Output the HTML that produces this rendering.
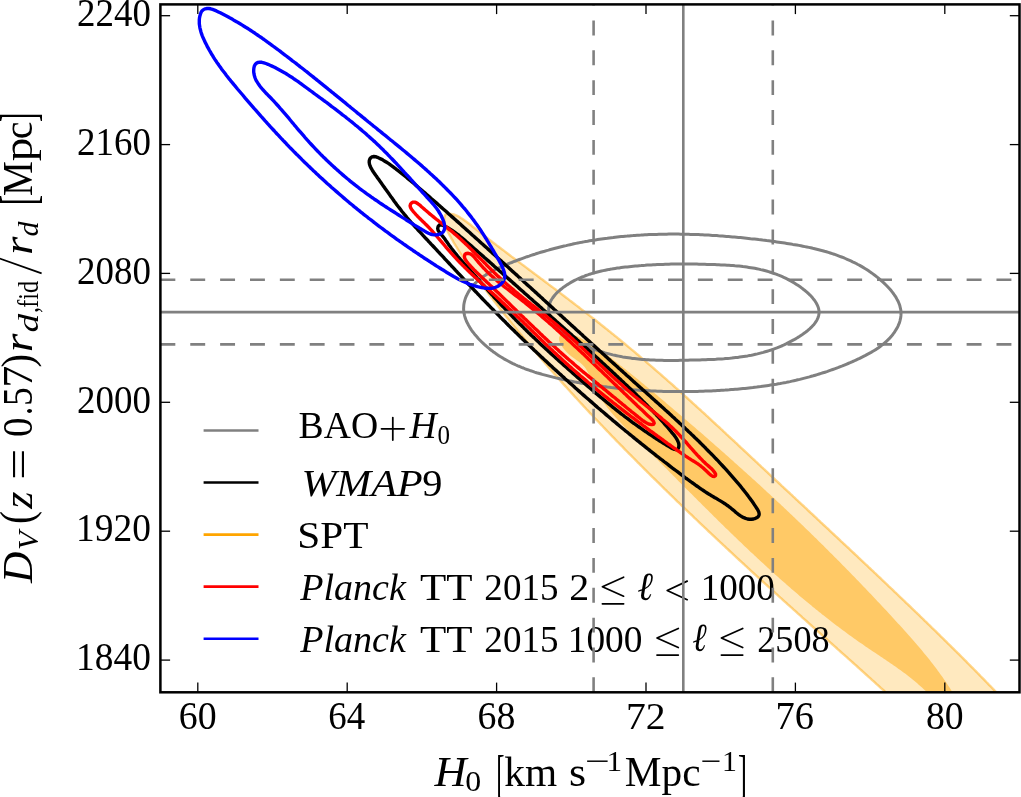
<!DOCTYPE html><html><head><meta charset="utf-8"><style>html,body{margin:0;padding:0;background:#fff;overflow:hidden}svg{display:block;will-change:transform}</style></head><body><svg width="1021" height="797" viewBox="0 0 1021 797" style="font-family:'Liberation Serif',serif">
<defs><clipPath id="ax"><rect x="160.4" y="4.4" width="859.1" height="687.9"/></clipPath></defs>
<rect width="100%" height="100%" fill="#fff"/>
<g clip-path="url(#ax)">
<path d="M444.7 216.3L445.3 214.8L446.5 213.9L448.3 213.7L450.1 213.8L451.9 214.1L453.8 214.5L455.5 215.2L457.3 215.9L459.1 216.8L460.8 217.9L462.6 219.0L464.3 220.2L466.0 221.4L467.7 222.7L469.4 224.0L471.1 225.3L472.7 226.7L474.4 228.0L476.1 229.3L477.7 230.6L479.4 231.9L481.0 233.2L482.7 234.5L484.3 235.7L485.9 237.0L487.5 238.2L489.1 239.5L490.8 240.7L492.4 242.0L494.0 243.2L495.6 244.4L497.1 245.6L498.7 246.8L500.3 248.0L501.9 249.2L503.5 250.4L505.1 251.6L506.6 252.8L508.2 254.0L509.8 255.2L511.3 256.4L512.9 257.6L514.5 258.7L516.0 259.9L517.6 261.1L519.2 262.3L520.7 263.4L522.3 264.6L523.9 265.8L525.4 266.9L527.0 268.1L528.5 269.3L530.1 270.4L531.7 271.6L533.2 272.8L534.8 274.0L536.4 275.1L537.9 276.3L539.5 277.5L541.1 278.7L542.7 279.8L544.2 281.0L545.8 282.2L547.4 283.4L548.9 284.6L550.5 285.8L552.1 286.9L553.7 288.1L555.3 289.3L556.8 290.5L558.4 291.7L560.0 292.9L561.6 294.1L563.1 295.3L564.7 296.5L566.3 297.7L567.9 298.9L569.4 300.1L571.0 301.3L572.6 302.5L574.2 303.7L575.7 304.9L577.3 306.1L578.9 307.3L580.5 308.6L582.0 309.8L583.6 311.0L585.2 312.2L586.7 313.4L588.3 314.6L589.9 315.9L591.5 317.1L593.0 318.3L594.6 319.5L596.2 320.8L597.7 322.0L599.3 323.2L600.8 324.5L602.4 325.7L604.0 327.0L605.5 328.2L607.1 329.4L608.6 330.7L610.2 331.9L611.7 333.2L613.3 334.4L614.8 335.7L616.4 336.9L617.9 338.2L619.5 339.5L621.0 340.7L622.5 342.0L624.1 343.3L625.6 344.5L627.2 345.8L628.7 347.1L630.2 348.3L631.7 349.6L633.3 350.9L634.8 352.2L636.3 353.5L637.8 354.7L639.3 356.0L640.9 357.3L642.4 358.6L643.9 359.9L645.4 361.2L646.9 362.5L648.4 363.8L649.9 365.1L651.4 366.4L652.9 367.7L654.4 369.0L655.9 370.3L657.4 371.6L658.9 372.9L660.4 374.2L661.9 375.5L663.4 376.8L664.9 378.1L666.4 379.4L667.9 380.8L669.4 382.1L670.9 383.4L672.4 384.7L673.8 386.0L675.3 387.4L676.8 388.7L678.3 390.0L679.8 391.3L681.3 392.7L682.7 394.0L684.2 395.3L685.7 396.7L687.2 398.0L688.6 399.3L690.1 400.7L691.6 402.0L693.0 403.3L694.5 404.7L696.0 406.0L697.4 407.3L698.9 408.7L700.4 410.0L701.8 411.4L703.3 412.7L704.8 414.0L706.2 415.4L707.7 416.7L709.2 418.1L710.6 419.4L712.1 420.8L713.5 422.1L715.0 423.5L716.4 424.8L717.9 426.2L719.4 427.5L720.8 428.9L722.3 430.2L723.7 431.6L725.2 432.9L726.6 434.3L728.1 435.6L729.5 437.0L731.0 438.3L732.4 439.7L733.9 441.0L735.3 442.4L736.8 443.7L738.2 445.1L739.7 446.5L741.1 447.8L742.6 449.2L744.0 450.5L745.5 451.9L746.9 453.2L748.4 454.6L749.8 455.9L751.3 457.3L752.7 458.7L754.2 460.0L755.6 461.4L757.1 462.7L758.5 464.1L760.0 465.4L761.4 466.8L762.9 468.1L764.3 469.5L765.8 470.9L767.2 472.2L768.7 473.6L770.1 474.9L771.6 476.3L773.0 477.6L774.5 479.0L775.9 480.3L777.4 481.7L778.8 483.0L780.3 484.4L781.7 485.8L783.2 487.1L784.6 488.5L786.1 489.8L787.5 491.2L789.0 492.5L790.4 493.9L791.9 495.2L793.3 496.6L794.8 497.9L796.2 499.3L797.7 500.6L799.1 502.0L800.6 503.3L802.0 504.7L803.5 506.0L804.9 507.4L806.4 508.7L807.8 510.1L809.3 511.5L810.7 512.8L812.2 514.2L813.6 515.5L815.1 516.9L816.5 518.2L817.9 519.6L819.4 520.9L820.8 522.3L822.3 523.6L823.7 525.0L825.2 526.3L826.6 527.7L828.1 529.0L829.5 530.4L831.0 531.8L832.4 533.1L833.9 534.5L835.3 535.8L836.8 537.2L838.2 538.5L839.7 539.9L841.1 541.3L842.6 542.6L844.0 544.0L845.5 545.3L846.9 546.7L848.4 548.0L849.8 549.4L851.3 550.8L852.7 552.1L854.2 553.5L855.6 554.8L857.1 556.2L858.5 557.6L859.9 558.9L861.4 560.3L862.8 561.6L864.3 563.0L865.7 564.4L867.2 565.7L868.6 567.1L870.1 568.5L871.5 569.8L873.0 571.2L874.4 572.6L875.9 573.9L877.3 575.3L878.7 576.7L880.2 578.0L881.6 579.4L883.1 580.8L884.5 582.1L886.0 583.5L887.4 584.9L888.8 586.3L890.3 587.6L891.7 589.0L893.2 590.4L894.6 591.8L896.1 593.1L897.5 594.5L898.9 595.9L900.4 597.3L901.8 598.6L903.3 600.0L904.7 601.4L906.1 602.8L907.6 604.2L909.0 605.5L910.5 606.9L911.9 608.3L913.3 609.7L914.8 611.1L916.2 612.5L917.7 613.9L919.1 615.2L920.5 616.6L922.0 618.0L923.4 619.4L924.8 620.8L926.3 622.2L927.7 623.6L929.1 625.0L930.6 626.4L932.0 627.8L933.4 629.1L934.8 630.5L936.3 631.9L937.7 633.3L939.1 634.7L940.5 636.1L942.0 637.5L943.4 638.9L944.8 640.3L946.2 641.7L947.6 643.1L949.1 644.5L950.5 645.9L951.9 647.3L953.3 648.7L954.7 650.1L956.1 651.5L957.5 652.8L958.9 654.2L960.3 655.6L961.7 657.0L963.1 658.4L964.5 659.8L965.9 661.2L967.2 662.6L968.6 664.0L970.0 665.4L971.4 666.8L972.8 668.2L974.1 669.5L975.5 670.9L976.9 672.3L978.2 673.7L979.6 675.1L980.9 676.5L982.3 677.9L983.6 679.2L985.0 680.6L986.3 682.0L987.7 683.4L989.0 684.8L990.4 686.1L991.7 687.5L993.0 688.9L994.4 690.3L995.7 691.7L997.1 693.1L998.5 694.5L999.8 695.9L1001.2 697.4L1002.6 698.8L1004.0 700.3L1005.4 701.7L1006.9 703.2L1008.3 704.7L1009.8 706.2L1011.3 707.7L1012.8 709.2L1014.3 710.8L1015.8 712.3L1017.4 713.9L1018.9 715.5L1020.4 717.1L1021.9 718.7L1023.4 720.3L1024.9 721.9L1026.2 723.5L1027.6 725.1L1028.8 726.7L1030.0 728.3L1031.1 729.9L1032.1 731.5L1033.0 733.1L1033.7 734.7L1034.3 736.2L1034.8 737.7L1035.2 739.2L1035.4 740.7L1035.4 742.1L1035.2 743.6L1034.9 744.9L1034.4 746.3L1033.7 747.6L1032.8 748.9L1031.8 750.2L1030.7 751.4L1029.4 752.6L1027.9 753.7L1026.3 754.8L1024.6 755.9L1022.8 756.9L1020.9 757.9L1018.9 758.8L1016.7 759.7L1014.5 760.6L1012.2 761.4L1009.8 762.1L1007.4 762.8L1004.9 763.5L1002.3 764.0L999.7 764.6L997.0 765.1L994.3 765.5L991.6 765.8L988.8 766.1L986.1 766.4L983.3 766.6L980.5 766.7L977.8 766.8L975.0 766.7L972.3 766.7L969.5 766.5L966.9 766.3L964.2 766.0L961.6 765.7L959.1 765.3L956.6 764.8L954.2 764.2L951.8 763.6L949.6 762.8L947.4 762.0L945.3 761.1L943.3 760.2L941.4 759.1L939.7 758.0L938.0 756.8L936.5 755.5L935.1 754.1L933.9 752.6L932.8 751.1L931.8 749.4L931.0 747.7L930.4 745.8L930.0 743.9L929.7 741.9L929.5 739.9L929.3 737.8L929.1 735.8L928.8 733.8L928.4 731.9L927.8 730.0L927.0 728.4L926.0 726.8L924.8 725.3L923.4 723.9L922.0 722.6L920.4 721.4L918.8 720.1L917.2 718.9L915.6 717.7L914.0 716.5L912.4 715.2L910.8 714.0L909.2 712.7L907.6 711.4L906.1 710.2L904.5 708.9L903.0 707.6L901.5 706.3L900.0 705.0L898.5 703.7L897.0 702.4L895.5 701.1L894.0 699.7L892.5 698.4L891.0 697.1L889.5 695.8L888.1 694.4L886.6 693.1L885.1 691.8L883.7 690.4L882.2 689.1L880.7 687.8L879.2 686.4L877.8 685.1L876.3 683.8L874.8 682.4L873.4 681.1L871.9 679.8L870.4 678.4L868.9 677.1L867.5 675.8L866.0 674.5L864.5 673.1L863.1 671.8L861.6 670.5L860.1 669.2L858.6 667.8L857.2 666.5L855.7 665.2L854.2 663.9L852.7 662.5L851.2 661.2L849.8 659.9L848.3 658.6L846.8 657.2L845.3 655.9L843.9 654.6L842.4 653.3L840.9 652.0L839.4 650.6L837.9 649.3L836.5 648.0L835.0 646.7L833.5 645.3L832.0 644.0L830.5 642.7L829.1 641.4L827.6 640.1L826.1 638.7L824.6 637.4L823.1 636.1L821.7 634.8L820.2 633.4L818.7 632.1L817.2 630.8L815.7 629.5L814.3 628.2L812.8 626.8L811.3 625.5L809.8 624.2L808.4 622.9L806.9 621.5L805.4 620.2L803.9 618.9L802.4 617.6L801.0 616.2L799.5 614.9L798.0 613.6L796.5 612.2L795.1 610.9L793.6 609.6L792.1 608.2L790.6 606.9L789.2 605.6L787.7 604.3L786.2 602.9L784.7 601.6L783.3 600.3L781.8 598.9L780.3 597.6L778.9 596.3L777.4 594.9L775.9 593.6L774.4 592.2L773.0 590.9L771.5 589.6L770.0 588.2L768.6 586.9L767.1 585.5L765.6 584.2L764.2 582.9L762.7 581.5L761.2 580.2L759.8 578.8L758.3 577.5L756.8 576.2L755.4 574.8L753.9 573.5L752.4 572.1L751.0 570.8L749.5 569.4L748.1 568.1L746.6 566.7L745.1 565.4L743.7 564.0L742.2 562.7L740.8 561.3L739.3 560.0L737.8 558.6L736.4 557.3L734.9 555.9L733.5 554.6L732.0 553.2L730.6 551.9L729.1 550.5L727.7 549.2L726.2 547.8L724.8 546.4L723.3 545.1L721.8 543.7L720.4 542.4L719.0 541.0L717.5 539.6L716.1 538.3L714.6 536.9L713.2 535.6L711.7 534.2L710.3 532.8L708.8 531.5L707.4 530.1L705.9 528.7L704.5 527.4L703.1 526.0L701.6 524.6L700.2 523.3L698.7 521.9L697.3 520.5L695.9 519.1L694.4 517.8L693.0 516.4L691.6 515.0L690.1 513.7L688.7 512.3L687.2 510.9L685.8 509.5L684.4 508.1L683.0 506.8L681.5 505.4L680.1 504.0L678.7 502.6L677.2 501.3L675.8 499.9L674.4 498.5L673.0 497.1L671.5 495.7L670.1 494.3L668.7 492.9L667.3 491.6L665.9 490.2L664.4 488.8L663.0 487.4L661.6 486.0L660.2 484.6L658.8 483.2L657.4 481.8L656.0 480.4L654.5 479.0L653.1 477.7L651.7 476.3L650.3 474.9L648.9 473.5L647.5 472.1L646.1 470.7L644.7 469.3L643.3 467.9L641.9 466.5L640.5 465.1L639.1 463.7L637.7 462.3L636.3 460.8L634.9 459.4L633.5 458.0L632.1 456.6L630.7 455.2L629.3 453.8L627.9 452.4L626.5 451.0L625.1 449.6L623.7 448.1L622.4 446.7L621.0 445.3L619.6 443.9L618.2 442.5L616.8 441.1L615.4 439.6L614.1 438.2L612.7 436.8L611.3 435.4L609.9 433.9L608.6 432.5L607.2 431.1L605.8 429.6L604.4 428.2L603.1 426.8L601.7 425.3L600.3 423.9L599.0 422.5L597.6 421.0L596.2 419.6L594.9 418.2L593.5 416.7L592.2 415.3L590.8 413.8L589.4 412.4L588.1 410.9L586.7 409.5L585.4 408.0L584.0 406.6L582.7 405.1L581.3 403.7L580.0 402.2L578.6 400.7L577.3 399.3L576.0 397.8L574.6 396.4L573.3 394.9L571.9 393.4L570.6 392.0L569.3 390.5L567.9 389.0L566.6 387.5L565.3 386.1L563.9 384.6L562.6 383.1L561.3 381.6L560.0 380.1L558.6 378.7L557.3 377.2L556.0 375.7L554.7 374.2L553.4 372.7L552.0 371.2L550.7 369.7L549.4 368.2L548.1 366.7L546.8 365.2L545.5 363.7L544.2 362.2L542.9 360.7L541.6 359.2L540.3 357.7L539.0 356.2L537.7 354.7L536.4 353.2L535.1 351.6L533.8 350.1L532.5 348.6L531.2 347.1L529.9 345.5L528.7 344.0L527.4 342.5L526.1 341.0L524.8 339.4L523.5 337.9L522.3 336.3L521.0 334.8L519.7 333.3L518.4 331.7L517.2 330.2L515.9 328.6L514.6 327.1L513.4 325.5L512.1 324.0L510.9 322.4L509.6 320.9L508.4 319.3L507.1 317.7L505.9 316.2L504.6 314.6L503.4 313.0L502.2 311.5L500.9 309.9L499.7 308.4L498.5 306.8L497.3 305.2L496.1 303.6L494.9 302.1L493.7 300.5L492.5 298.9L491.3 297.3L490.1 295.8L488.9 294.2L487.7 292.6L486.5 291.0L485.4 289.5L484.2 287.9L483.0 286.3L481.9 284.7L480.7 283.1L479.6 281.6L478.5 280.0L477.3 278.4L476.2 276.8L475.1 275.2L474.0 273.7L472.9 272.1L471.8 270.5L470.7 268.9L469.6 267.3L468.6 265.7L467.5 264.2L466.4 262.6L465.4 261.0L464.3 259.3L463.2 257.7L462.2 256.1L461.1 254.4L460.1 252.8L459.0 251.1L457.9 249.4L456.9 247.6L455.8 245.9L454.7 244.1L453.6 242.3L452.6 240.4L451.5 238.6L450.4 236.6L449.3 234.7L448.3 232.8L447.3 230.8L446.5 228.9L445.7 227.0L445.1 225.1L444.6 223.2L444.3 221.4L444.2 219.6L444.3 217.9Z" fill="#ffe9bf" stroke="#ffa500" stroke-opacity="0.45" stroke-width="2.4"/>
<path d="M559.6 336.2L560.6 334.8L562.0 333.8L563.7 333.3L565.6 333.0L567.6 333.2L569.5 333.5L571.5 334.2L573.5 334.9L575.5 335.8L577.4 336.6L579.3 337.5L581.1 338.5L583.0 339.4L584.8 340.4L586.5 341.4L588.3 342.4L590.0 343.4L591.7 344.5L593.4 345.5L595.1 346.6L596.7 347.7L598.4 348.8L600.0 350.0L601.6 351.1L603.2 352.2L604.8 353.4L606.4 354.6L608.0 355.8L609.5 356.9L611.1 358.1L612.7 359.3L614.2 360.5L615.8 361.8L617.3 363.0L618.9 364.2L620.4 365.4L622.0 366.6L623.5 367.9L625.1 369.1L626.6 370.3L628.2 371.6L629.7 372.8L631.3 374.1L632.8 375.3L634.4 376.6L635.9 377.8L637.5 379.1L639.0 380.3L640.5 381.6L642.1 382.9L643.6 384.1L645.2 385.4L646.7 386.7L648.2 387.9L649.8 389.2L651.3 390.5L652.8 391.8L654.4 393.1L655.9 394.3L657.4 395.6L659.0 396.9L660.5 398.2L662.0 399.5L663.6 400.8L665.1 402.1L666.6 403.4L668.2 404.7L669.7 406.0L671.2 407.3L672.7 408.6L674.3 409.9L675.8 411.2L677.3 412.5L678.8 413.8L680.4 415.1L681.9 416.4L683.4 417.7L684.9 419.0L686.4 420.3L687.9 421.6L689.5 422.9L691.0 424.2L692.5 425.5L694.0 426.8L695.5 428.1L697.0 429.4L698.5 430.7L700.1 432.0L701.6 433.3L703.1 434.6L704.6 436.0L706.1 437.3L707.6 438.6L709.1 439.9L710.6 441.2L712.1 442.5L713.6 443.8L715.1 445.2L716.6 446.5L718.1 447.8L719.6 449.1L721.1 450.4L722.6 451.8L724.1 453.1L725.6 454.4L727.1 455.7L728.6 457.0L730.1 458.4L731.6 459.7L733.1 461.0L734.5 462.4L736.0 463.7L737.5 465.0L739.0 466.4L740.5 467.7L742.0 469.0L743.5 470.4L744.9 471.7L746.4 473.0L747.9 474.4L749.4 475.7L750.9 477.0L752.3 478.4L753.8 479.7L755.3 481.1L756.8 482.4L758.2 483.8L759.7 485.1L761.2 486.5L762.6 487.8L764.1 489.2L765.6 490.5L767.0 491.9L768.5 493.2L770.0 494.6L771.4 495.9L772.9 497.3L774.3 498.6L775.8 500.0L777.3 501.4L778.7 502.7L780.2 504.1L781.6 505.5L783.1 506.8L784.5 508.2L786.0 509.6L787.4 510.9L788.9 512.3L790.3 513.7L791.8 515.0L793.2 516.4L794.7 517.8L796.1 519.2L797.5 520.6L799.0 521.9L800.4 523.3L801.9 524.7L803.3 526.1L804.7 527.5L806.2 528.9L807.6 530.3L809.0 531.6L810.5 533.0L811.9 534.4L813.3 535.8L814.7 537.2L816.2 538.6L817.6 540.0L819.0 541.4L820.4 542.8L821.9 544.2L823.3 545.6L824.7 547.0L826.1 548.4L827.5 549.8L828.9 551.2L830.3 552.7L831.8 554.1L833.2 555.5L834.6 556.9L836.0 558.3L837.4 559.7L838.8 561.1L840.2 562.6L841.6 564.0L843.0 565.4L844.4 566.8L845.8 568.3L847.2 569.7L848.6 571.1L850.0 572.5L851.4 574.0L852.8 575.4L854.2 576.8L855.6 578.3L856.9 579.7L858.3 581.1L859.7 582.6L861.1 584.0L862.5 585.4L863.9 586.9L865.3 588.3L866.6 589.8L868.0 591.2L869.4 592.7L870.8 594.1L872.1 595.6L873.5 597.0L874.9 598.5L876.3 599.9L877.6 601.4L879.0 602.8L880.4 604.3L881.7 605.8L883.1 607.2L884.5 608.7L885.8 610.1L887.2 611.6L888.5 613.1L889.9 614.5L891.3 616.0L892.6 617.5L894.0 618.9L895.3 620.4L896.7 621.9L898.0 623.4L899.4 624.8L900.7 626.3L902.1 627.8L903.4 629.3L904.7 630.8L906.1 632.3L907.4 633.7L908.7 635.2L910.1 636.7L911.4 638.2L912.7 639.7L914.0 641.2L915.3 642.7L916.6 644.3L917.9 645.8L919.2 647.3L920.5 648.8L921.8 650.3L923.1 651.9L924.3 653.4L925.6 655.0L926.9 656.5L928.1 658.1L929.4 659.6L930.6 661.2L931.8 662.7L933.0 664.3L934.3 665.9L935.5 667.5L936.7 669.1L937.8 670.7L939.0 672.3L940.2 673.9L941.3 675.5L942.5 677.1L943.6 678.8L944.8 680.4L945.9 682.1L947.0 683.7L948.1 685.4L949.2 687.0L950.3 688.7L951.3 690.4L952.4 692.1L953.4 693.8L954.4 695.5L955.4 697.2L956.4 699.0L957.4 700.7L958.4 702.5L959.4 704.2L960.3 706.0L961.3 707.8L962.2 709.5L963.1 711.3L964.0 713.1L964.9 715.0L965.7 716.8L966.6 718.6L967.4 720.5L968.2 722.3L968.9 724.2L969.5 726.1L969.9 727.9L970.1 729.8L969.9 731.6L969.4 733.4L968.5 735.1L967.2 736.8L965.5 738.4L963.6 739.8L961.5 740.8L959.4 741.6L957.3 741.9L955.2 741.8L953.3 741.2L951.4 740.4L949.7 739.2L948.1 737.8L946.7 736.3L945.6 734.6L944.6 732.8L943.7 730.9L943.1 729.0L942.5 727.1L942.1 725.1L941.7 723.0L941.4 721.0L941.1 718.9L940.8 716.9L940.5 714.8L940.2 712.8L939.7 710.9L939.2 708.9L938.6 707.1L937.8 705.3L936.8 703.6L935.7 702.0L934.6 700.4L933.3 698.8L931.9 697.4L930.6 695.9L929.2 694.5L927.8 693.0L926.4 691.6L924.9 690.2L923.5 688.9L922.0 687.5L920.5 686.2L919.0 684.9L917.5 683.6L916.0 682.3L914.5 681.0L912.9 679.7L911.4 678.5L909.8 677.3L908.2 676.0L906.7 674.8L905.1 673.6L903.5 672.4L901.9 671.3L900.3 670.1L898.6 668.9L897.0 667.8L895.4 666.6L893.7 665.5L892.1 664.3L890.4 663.2L888.8 662.1L887.1 660.9L885.5 659.8L883.8 658.7L882.2 657.6L880.5 656.5L878.8 655.3L877.2 654.2L875.5 653.1L873.8 652.0L872.2 650.9L870.5 649.8L868.9 648.7L867.2 647.5L865.5 646.4L863.9 645.3L862.3 644.1L860.6 643.0L859.0 641.9L857.3 640.7L855.7 639.5L854.1 638.4L852.5 637.2L850.8 636.1L849.2 634.9L847.6 633.7L846.0 632.5L844.4 631.3L842.8 630.2L841.2 629.0L839.6 627.8L838.0 626.6L836.4 625.4L834.8 624.2L833.2 622.9L831.6 621.7L830.1 620.5L828.5 619.3L826.9 618.1L825.3 616.8L823.8 615.6L822.2 614.4L820.7 613.1L819.1 611.9L817.5 610.6L816.0 609.4L814.4 608.1L812.9 606.9L811.4 605.6L809.8 604.3L808.3 603.1L806.7 601.8L805.2 600.5L803.7 599.2L802.2 597.9L800.6 596.7L799.1 595.4L797.6 594.1L796.1 592.8L794.6 591.5L793.1 590.2L791.5 588.9L790.0 587.6L788.5 586.3L787.0 585.0L785.5 583.6L784.0 582.3L782.5 581.0L781.0 579.7L779.6 578.4L778.1 577.0L776.6 575.7L775.1 574.4L773.6 573.0L772.1 571.7L770.6 570.4L769.2 569.0L767.7 567.7L766.2 566.3L764.8 565.0L763.3 563.6L761.8 562.3L760.4 560.9L758.9 559.6L757.4 558.2L756.0 556.8L754.5 555.5L753.1 554.1L751.6 552.7L750.1 551.4L748.7 550.0L747.2 548.6L745.8 547.3L744.3 545.9L742.9 544.5L741.5 543.1L740.0 541.7L738.6 540.4L737.1 539.0L735.7 537.6L734.2 536.2L732.8 534.8L731.4 533.4L729.9 532.0L728.5 530.6L727.1 529.3L725.6 527.9L724.2 526.5L722.8 525.1L721.4 523.7L719.9 522.3L718.5 520.9L717.1 519.5L715.7 518.1L714.2 516.7L712.8 515.3L711.4 513.8L710.0 512.4L708.6 511.0L707.1 509.6L705.7 508.2L704.3 506.8L702.9 505.4L701.5 504.0L700.1 502.6L698.6 501.2L697.2 499.8L695.8 498.3L694.4 496.9L693.0 495.5L691.6 494.1L690.2 492.7L688.8 491.3L687.4 489.9L685.9 488.4L684.5 487.0L683.1 485.6L681.7 484.2L680.3 482.8L678.9 481.4L677.5 479.9L676.1 478.5L674.7 477.1L673.3 475.7L671.9 474.3L670.5 472.9L669.1 471.5L667.7 470.0L666.3 468.6L664.9 467.2L663.5 465.8L662.1 464.4L660.6 463.0L659.2 461.5L657.8 460.1L656.4 458.7L655.0 457.3L653.6 455.9L652.2 454.5L650.8 453.1L649.4 451.7L648.0 450.3L646.6 448.8L645.2 447.4L643.8 446.0L642.4 444.6L641.0 443.2L639.6 441.8L638.2 440.4L636.8 439.0L635.3 437.6L633.9 436.2L632.5 434.8L631.1 433.4L629.7 432.0L628.3 430.6L626.9 429.2L625.5 427.8L624.1 426.4L622.7 425.0L621.4 423.5L620.0 422.1L618.6 420.7L617.3 419.2L615.9 417.8L614.6 416.3L613.3 414.8L612.0 413.3L610.7 411.8L609.5 410.3L608.3 408.7L607.0 407.2L605.8 405.6L604.7 404.0L603.5 402.4L602.4 400.7L601.3 399.1L600.2 397.4L599.2 395.7L598.2 393.9L597.2 392.2L596.2 390.4L595.3 388.6L594.4 386.7L593.6 384.8L592.7 382.9L591.9 381.1L591.1 379.2L590.3 377.3L589.4 375.4L588.5 373.6L587.6 371.9L586.7 370.2L585.7 368.6L584.6 367.1L583.4 365.7L582.2 364.4L580.8 363.2L579.4 362.1L577.9 361.0L576.3 360.0L574.7 358.8L572.9 357.6L571.2 356.3L569.4 354.7L567.5 353.0L565.8 351.2L564.1 349.2L562.6 347.2L561.3 345.2L560.2 343.2L559.5 341.3L559.1 339.4L559.1 337.7Z" fill="#ffc966"/>
</g>
<line x1="203.6" y1="430.5" x2="258.5" y2="430.5" stroke="#808080" stroke-width="2.6"/>
<line x1="203.6" y1="482.55" x2="258.5" y2="482.55" stroke="#000000" stroke-width="2.6"/>
<line x1="203.6" y1="534.6" x2="258.5" y2="534.6" stroke="#ffa500" stroke-width="2.6"/>
<line x1="203.6" y1="586.65" x2="258.5" y2="586.65" stroke="#ff0000" stroke-width="2.6"/>
<line x1="203.6" y1="638.7" x2="258.5" y2="638.7" stroke="#0000ff" stroke-width="2.6"/>
<g fill="#000"><text transform="matrix(0.9784 0 0 1.0000 298.61 438.30)" font-size="38.5">BAO</text><text transform="matrix(0.9751 0 0 1.0000 409.40 438.30)" font-size="38.5" font-style="italic">H</text><text transform="matrix(0.9263 0 0 1.0000 437.45 443.60)" font-size="27">0</text><text transform="matrix(1.0895 0 0 1.0000 301.43 496.20)" font-size="38.5" font-style="italic">WMAP</text><text transform="matrix(1.0469 0 0 1.0000 422.20 496.20)" font-size="38.5">9</text><text transform="matrix(1.0740 0 0 1.0000 297.23 548.00)" font-size="38.5">SPT</text><text transform="matrix(0.9892 0 0 1.0000 300.20 600.30)" font-size="38.5" font-style="italic">Planck</text><text transform="matrix(1.1182 0 0 1.0000 419.92 600.30)" font-size="38.5">TT</text><text transform="matrix(0.9620 0 0 1.0000 484.37 600.30)" font-size="38.5">2015</text><text transform="matrix(1.0367 0 0 1.0000 569.25 600.30)" font-size="38.5">2</text><text transform="matrix(0.9762 0 0 1.0385 637.33 599.51)" font-size="38.5" font-style="italic">ℓ</text><text transform="matrix(0.9619 0 0 1.0000 700.75 600.30)" font-size="38.5">1000</text><text transform="matrix(0.9892 0 0 1.0000 300.20 651.60)" font-size="38.5" font-style="italic">Planck</text><text transform="matrix(1.1182 0 0 1.0000 419.92 651.60)" font-size="38.5">TT</text><text transform="matrix(0.9620 0 0 1.0000 484.37 651.60)" font-size="38.5">2015</text><text transform="matrix(0.9702 0 0 1.0000 567.72 651.60)" font-size="38.5">1000</text><text transform="matrix(0.8965 0 0 1.0385 692.29 650.81)" font-size="38.5" font-style="italic">ℓ</text><text transform="matrix(0.9398 0 0 1.0000 757.21 651.60)" font-size="38.5">2508</text></g>
<g fill="none" stroke="#000" stroke-width="1.75" stroke-linecap="round" stroke-linejoin="round"><path d="M623.6 577.2L602.4 586.7L623.6 596.2M602.4 603.8L623.6 603.8"/><path d="M687.2 581.1L667.2 590.5L687.2 599.7"/><path d="M678.3 628.5L657.0 638.0L678.3 647.5M657.0 655.1L678.3 655.1"/><path d="M742.7 628.5L721.4 638.0L742.7 647.5M721.4 655.1L742.7 655.1"/><path d="M381.5 428.8L404.1 428.8M392.8 417.5L392.8 440"/></g>
<g clip-path="url(#ax)" fill="none" stroke-linejoin="round">
<path d="M463.7 306.9L463.8 305.1L464.1 303.3L464.5 301.4L465.0 299.6L465.6 297.8L466.3 296.1L467.2 294.3L468.1 292.6L469.0 291.0L470.1 289.4L471.2 287.8L472.5 286.3L473.7 284.8L475.0 283.4L476.4 282.1L477.9 280.8L479.4 279.5L480.9 278.3L482.5 277.1L484.1 276.0L485.8 274.9L487.5 273.9L489.2 272.8L491.0 271.8L492.8 270.9L494.6 269.9L496.5 269.0L498.4 268.1L500.2 267.3L502.1 266.4L504.0 265.6L506.0 264.8L507.9 264.0L509.8 263.2L511.7 262.5L513.6 261.7L515.6 261.0L517.5 260.2L519.4 259.5L521.3 258.8L523.3 258.1L525.2 257.4L527.1 256.7L529.1 256.1L531.0 255.4L533.0 254.8L534.9 254.2L536.8 253.5L538.8 252.9L540.7 252.3L542.7 251.7L544.6 251.2L546.6 250.6L548.5 250.1L550.4 249.5L552.4 249.0L554.3 248.5L556.3 248.0L558.3 247.5L560.2 247.0L562.2 246.5L564.1 246.0L566.1 245.6L568.0 245.1L570.0 244.7L571.9 244.3L573.9 243.8L575.9 243.4L577.8 243.0L579.8 242.6L581.8 242.3L583.7 241.9L585.7 241.5L587.6 241.2L589.6 240.8L591.6 240.5L593.6 240.2L595.5 239.9L597.5 239.6L599.5 239.3L601.4 239.0L603.4 238.7L605.4 238.4L607.3 238.2L609.3 237.9L611.3 237.7L613.3 237.5L615.2 237.2L617.2 237.0L619.2 236.8L621.2 236.6L623.1 236.4L625.1 236.2L627.1 236.1L629.1 235.9L631.0 235.7L633.0 235.6L635.0 235.4L637.0 235.3L639.0 235.2L640.9 235.1L642.9 234.9L644.9 234.8L646.9 234.7L648.9 234.6L650.8 234.6L652.8 234.5L654.8 234.4L656.8 234.4L658.8 234.3L660.7 234.3L662.7 234.2L664.7 234.2L666.7 234.2L668.7 234.1L670.7 234.1L672.7 234.1L674.6 234.1L676.6 234.1L678.6 234.1L680.6 234.2L682.6 234.2L684.6 234.2L686.6 234.3L688.6 234.3L690.5 234.4L692.5 234.4L694.5 234.5L696.5 234.6L698.5 234.6L700.5 234.7L702.5 234.8L704.5 234.9L706.5 235.0L708.5 235.1L710.5 235.2L712.5 235.4L714.5 235.5L716.5 235.6L718.5 235.8L720.5 235.9L722.5 236.0L724.5 236.2L726.5 236.4L728.5 236.5L730.5 236.7L732.5 236.9L734.5 237.0L736.5 237.2L738.5 237.4L740.5 237.6L742.5 237.8L744.5 238.0L746.5 238.2L748.5 238.4L750.5 238.7L752.5 238.9L754.5 239.1L756.6 239.3L758.6 239.6L760.6 239.8L762.6 240.1L764.6 240.3L766.6 240.6L768.6 240.8L770.7 241.1L772.7 241.4L774.7 241.6L776.7 241.9L778.7 242.2L780.7 242.5L782.8 242.8L784.8 243.1L786.8 243.4L788.8 243.7L790.8 244.0L792.8 244.4L794.8 244.7L796.8 245.0L798.9 245.4L800.9 245.8L802.8 246.2L804.8 246.6L806.8 247.0L808.8 247.4L810.8 247.8L812.8 248.3L814.7 248.7L816.7 249.2L818.7 249.7L820.6 250.2L822.6 250.7L824.5 251.3L826.4 251.8L828.4 252.4L830.3 253.0L832.2 253.6L834.1 254.2L836.0 254.9L837.9 255.6L839.7 256.3L841.6 257.0L843.5 257.7L845.3 258.5L847.1 259.3L849.0 260.1L850.8 260.9L852.6 261.8L854.4 262.6L856.2 263.5L857.9 264.5L859.7 265.4L861.4 266.4L863.1 267.4L864.9 268.5L866.6 269.5L868.2 270.6L869.9 271.8L871.6 272.9L873.2 274.1L874.8 275.3L876.5 276.6L878.1 277.9L879.6 279.2L881.2 280.6L882.7 281.9L884.3 283.4L885.7 284.8L887.2 286.3L888.6 287.8L890.0 289.3L891.3 290.8L892.5 292.4L893.7 294.0L894.8 295.6L895.9 297.2L896.8 298.9L897.7 300.5L898.5 302.2L899.2 303.9L899.8 305.6L900.2 307.3L900.6 309.0L900.9 310.7L901.0 312.5L901.0 314.2L900.9 315.9L900.7 317.6L900.3 319.3L899.9 321.1L899.4 322.8L898.7 324.4L898.0 326.1L897.2 327.8L896.2 329.4L895.2 331.0L894.2 332.6L893.0 334.2L891.8 335.7L890.5 337.2L889.2 338.7L887.7 340.1L886.3 341.5L884.7 342.9L883.2 344.2L881.6 345.4L879.9 346.7L878.2 347.9L876.5 349.1L874.7 350.2L872.9 351.3L871.1 352.4L869.2 353.4L867.3 354.4L865.5 355.4L863.5 356.4L861.6 357.3L859.7 358.3L857.8 359.2L855.9 360.1L853.9 361.0L852.0 361.8L850.1 362.7L848.1 363.5L846.2 364.3L844.3 365.1L842.4 365.9L840.4 366.6L838.5 367.4L836.6 368.1L834.6 368.8L832.7 369.5L830.8 370.2L828.8 370.9L826.9 371.6L825.0 372.2L823.0 372.8L821.1 373.4L819.2 374.0L817.2 374.6L815.3 375.2L813.3 375.8L811.4 376.3L809.5 376.9L807.5 377.4L805.6 377.9L803.6 378.4L801.7 378.9L799.8 379.4L797.8 379.8L795.9 380.3L793.9 380.7L792.0 381.1L790.0 381.6L788.1 382.0L786.1 382.4L784.2 382.7L782.2 383.1L780.3 383.5L778.3 383.8L776.4 384.2L774.4 384.5L772.5 384.8L770.5 385.1L768.6 385.4L766.6 385.7L764.6 386.0L762.7 386.3L760.7 386.6L758.8 386.8L756.8 387.1L754.8 387.3L752.9 387.6L750.9 387.8L748.9 388.0L747.0 388.2L745.0 388.4L743.0 388.6L741.0 388.8L739.1 389.0L737.1 389.2L735.1 389.3L733.1 389.5L731.2 389.6L729.2 389.8L727.2 389.9L725.2 390.1L723.2 390.2L721.3 390.3L719.3 390.5L717.3 390.6L715.3 390.7L713.3 390.8L711.3 390.9L709.3 391.0L707.3 391.1L705.3 391.1L703.3 391.2L701.4 391.3L699.4 391.3L697.4 391.4L695.4 391.5L693.4 391.5L691.4 391.5L689.4 391.6L687.4 391.6L685.4 391.6L683.4 391.6L681.4 391.6L679.4 391.6L677.4 391.6L675.4 391.6L673.4 391.6L671.3 391.6L669.3 391.5L667.3 391.5L665.3 391.4L663.3 391.4L661.3 391.3L659.3 391.3L657.3 391.2L655.3 391.1L653.3 391.0L651.3 390.9L649.3 390.8L647.3 390.7L645.3 390.6L643.3 390.5L641.3 390.4L639.3 390.2L637.3 390.1L635.3 389.9L633.3 389.8L631.3 389.6L629.3 389.4L627.3 389.3L625.3 389.1L623.3 388.9L621.3 388.7L619.3 388.5L617.3 388.3L615.3 388.1L613.3 387.8L611.3 387.6L609.3 387.3L607.3 387.1L605.3 386.8L603.3 386.6L601.3 386.3L599.3 386.0L597.3 385.7L595.4 385.4L593.4 385.1L591.4 384.8L589.4 384.5L587.4 384.2L585.4 383.8L583.5 383.5L581.5 383.2L579.5 382.8L577.5 382.4L575.5 382.1L573.6 381.7L571.6 381.3L569.6 380.9L567.7 380.5L565.7 380.1L563.7 379.6L561.8 379.2L559.8 378.8L557.8 378.3L555.9 377.9L553.9 377.4L552.0 376.9L550.0 376.4L548.1 375.9L546.2 375.4L544.2 374.9L542.3 374.4L540.4 373.8L538.5 373.2L536.5 372.7L534.6 372.1L532.7 371.4L530.8 370.8L529.0 370.1L527.1 369.5L525.2 368.8L523.4 368.0L521.5 367.3L519.7 366.5L517.8 365.8L516.0 365.0L514.2 364.1L512.4 363.3L510.6 362.4L508.9 361.5L507.1 360.5L505.4 359.6L503.6 358.6L501.9 357.5L500.2 356.5L498.5 355.4L496.8 354.3L495.2 353.1L493.5 352.0L491.9 350.7L490.3 349.5L488.7 348.2L487.1 346.9L485.6 345.5L484.0 344.1L482.5 342.7L481.0 341.2L479.5 339.7L478.1 338.2L476.7 336.6L475.3 335.1L474.0 333.4L472.7 331.8L471.5 330.1L470.4 328.4L469.4 326.7L468.4 325.0L467.5 323.2L466.6 321.5L465.9 319.7L465.2 317.9L464.7 316.1L464.3 314.3L463.9 312.4L463.7 310.6L463.6 308.8Z" stroke="#808080" stroke-width="3.0"/>
<path d="M548.8 311.3L548.7 309.5L548.7 307.8L549.0 306.1L549.4 304.4L550.0 302.7L550.7 301.1L551.6 299.5L552.6 298.0L553.7 296.5L554.9 295.0L556.2 293.6L557.6 292.1L559.1 290.8L560.6 289.5L562.3 288.2L563.9 286.9L565.7 285.7L567.4 284.6L569.2 283.5L571.0 282.4L572.8 281.4L574.6 280.4L576.5 279.5L578.3 278.7L580.2 277.8L582.1 277.0L584.0 276.3L585.9 275.5L587.8 274.9L589.7 274.2L591.6 273.6L593.6 273.0L595.5 272.5L597.4 272.0L599.4 271.5L601.4 271.0L603.3 270.6L605.3 270.2L607.3 269.8L609.3 269.4L611.3 269.1L613.2 268.7L615.2 268.4L617.2 268.1L619.2 267.9L621.2 267.6L623.2 267.3L625.2 267.1L627.2 266.9L629.2 266.7L631.2 266.5L633.2 266.3L635.2 266.1L637.2 265.9L639.2 265.7L641.2 265.6L643.2 265.4L645.2 265.3L647.2 265.1L649.2 265.0L651.1 264.9L653.1 264.8L655.1 264.7L657.1 264.6L659.1 264.5L661.1 264.4L663.1 264.4L665.1 264.3L667.1 264.2L669.0 264.2L671.0 264.1L673.0 264.1L675.0 264.1L677.0 264.0L679.0 264.0L681.0 264.0L683.0 264.0L685.0 264.0L687.0 264.0L689.0 264.0L690.9 264.0L692.9 264.1L694.9 264.1L696.9 264.1L698.9 264.2L700.9 264.2L702.9 264.2L704.9 264.3L706.9 264.4L708.9 264.4L710.9 264.5L712.9 264.6L714.9 264.6L716.9 264.7L718.9 264.8L720.9 264.9L722.9 265.0L724.9 265.1L727.0 265.2L729.0 265.3L731.0 265.4L733.0 265.6L735.0 265.8L737.0 265.9L739.0 266.1L741.0 266.3L742.9 266.6L744.9 266.8L746.9 267.1L748.9 267.4L750.9 267.7L752.9 268.0L754.8 268.3L756.8 268.7L758.8 269.1L760.7 269.6L762.7 270.0L764.6 270.5L766.5 271.0L768.5 271.6L770.4 272.2L772.3 272.8L774.2 273.5L776.1 274.1L778.0 274.9L779.9 275.6L781.8 276.4L783.7 277.3L785.5 278.2L787.4 279.1L789.2 280.1L791.1 281.1L792.9 282.1L794.7 283.2L796.5 284.4L798.3 285.6L800.1 286.8L801.9 288.1L803.6 289.5L805.3 290.8L806.9 292.2L808.5 293.7L810.0 295.1L811.4 296.6L812.7 298.1L814.0 299.7L815.1 301.2L816.1 302.8L817.0 304.4L817.7 306.0L818.3 307.5L818.7 309.1L819.0 310.7L819.1 312.3L819.0 313.8L818.7 315.4L818.3 316.9L817.7 318.4L817.0 319.9L816.1 321.4L815.1 322.9L814.0 324.4L812.7 325.8L811.4 327.2L809.9 328.6L808.4 329.9L806.8 331.3L805.1 332.6L803.4 333.8L801.6 335.1L799.8 336.3L797.9 337.4L796.0 338.6L794.1 339.7L792.2 340.7L790.3 341.7L788.4 342.7L786.5 343.7L784.6 344.6L782.7 345.5L780.7 346.3L778.8 347.1L776.9 347.9L774.9 348.6L773.0 349.3L771.1 350.0L769.1 350.6L767.2 351.2L765.2 351.8L763.3 352.4L761.3 352.9L759.4 353.4L757.4 353.9L755.5 354.3L753.5 354.8L751.5 355.2L749.6 355.5L747.6 355.9L745.6 356.2L743.7 356.5L741.7 356.8L739.7 357.1L737.7 357.4L735.7 357.6L733.8 357.8L731.8 358.1L729.8 358.3L727.8 358.4L725.8 358.6L723.8 358.8L721.9 358.9L719.9 359.0L717.9 359.1L715.9 359.3L713.9 359.4L711.9 359.4L709.9 359.5L707.9 359.6L705.9 359.7L703.9 359.8L702.0 359.8L700.0 359.9L698.0 359.9L696.0 360.0L694.0 360.0L692.0 360.1L690.0 360.1L688.0 360.2L686.0 360.2L684.0 360.3L682.0 360.3L680.0 360.3L678.0 360.4L676.0 360.4L674.0 360.4L672.1 360.4L670.1 360.4L668.1 360.4L666.1 360.4L664.1 360.4L662.1 360.3L660.1 360.3L658.1 360.3L656.2 360.2L654.2 360.1L652.2 360.0L650.2 359.9L648.2 359.8L646.2 359.7L644.3 359.5L642.3 359.4L640.3 359.2L638.3 359.0L636.4 358.8L634.4 358.6L632.4 358.4L630.5 358.1L628.5 357.8L626.5 357.5L624.6 357.2L622.6 356.9L620.7 356.5L618.7 356.1L616.7 355.7L614.8 355.3L612.8 354.9L610.9 354.4L609.0 353.9L607.0 353.4L605.1 352.9L603.1 352.3L601.2 351.7L599.3 351.1L597.3 350.4L595.4 349.7L593.5 349.0L591.6 348.3L589.6 347.5L587.7 346.7L585.8 345.9L583.9 345.0L582.0 344.1L580.1 343.2L578.2 342.3L576.3 341.3L574.4 340.3L572.5 339.2L570.7 338.1L568.9 337.0L567.1 335.8L565.4 334.6L563.7 333.3L562.1 332.0L560.5 330.7L559.0 329.3L557.6 327.9L556.3 326.4L555.0 324.9L553.8 323.3L552.7 321.7L551.8 320.1L550.9 318.4L550.1 316.6L549.5 314.8L549.0 313.0Z" stroke="#808080" stroke-width="3.0"/>
<path d="M369.3 160.5L369.9 158.9L370.9 157.6L372.2 156.8L373.8 156.5L375.6 156.7L377.4 157.3L379.3 158.2L381.2 159.1L383.0 160.1L384.8 161.2L386.6 162.3L388.4 163.4L390.1 164.6L391.8 165.8L393.5 167.1L395.1 168.3L396.7 169.6L398.4 170.9L400.0 172.1L401.6 173.4L403.2 174.7L404.8 176.0L406.4 177.3L407.9 178.6L409.5 179.9L411.1 181.2L412.6 182.5L414.2 183.8L415.7 185.1L417.2 186.4L418.8 187.7L420.3 189.0L421.8 190.3L423.3 191.6L424.9 192.9L426.4 194.2L427.9 195.5L429.4 196.8L430.9 198.2L432.4 199.5L433.9 200.8L435.4 202.1L436.9 203.4L438.4 204.7L439.9 206.0L441.4 207.4L442.9 208.7L444.4 210.0L445.9 211.3L447.3 212.6L448.8 214.0L450.3 215.3L451.8 216.6L453.3 217.9L454.8 219.2L456.3 220.6L457.8 221.9L459.3 223.2L460.8 224.6L462.2 225.9L463.7 227.2L465.2 228.5L466.7 229.9L468.2 231.2L469.7 232.5L471.2 233.9L472.6 235.2L474.1 236.5L475.6 237.9L477.1 239.2L478.6 240.5L480.1 241.9L481.5 243.2L483.0 244.5L484.5 245.9L486.0 247.2L487.5 248.6L489.0 249.9L490.4 251.2L491.9 252.6L493.4 253.9L494.9 255.3L496.4 256.6L497.8 257.9L499.3 259.3L500.8 260.6L502.3 262.0L503.8 263.3L505.2 264.7L506.7 266.0L508.2 267.3L509.7 268.7L511.1 270.0L512.6 271.4L514.1 272.7L515.6 274.1L517.1 275.4L518.5 276.8L520.0 278.1L521.5 279.5L523.0 280.8L524.4 282.2L525.9 283.5L527.4 284.9L528.9 286.2L530.4 287.5L531.8 288.9L533.3 290.2L534.8 291.6L536.3 292.9L537.7 294.3L539.2 295.6L540.7 297.0L542.2 298.3L543.6 299.7L545.1 301.0L546.6 302.4L548.1 303.7L549.5 305.1L551.0 306.4L552.5 307.8L554.0 309.2L555.5 310.5L556.9 311.9L558.4 313.2L559.9 314.6L561.4 315.9L562.8 317.3L564.3 318.6L565.8 320.0L567.3 321.3L568.8 322.7L570.2 324.0L571.7 325.4L573.2 326.7L574.7 328.1L576.1 329.4L577.6 330.8L579.1 332.1L580.6 333.5L582.1 334.8L583.5 336.2L585.0 337.5L586.5 338.9L588.0 340.2L589.5 341.6L590.9 342.9L592.4 344.3L593.9 345.6L595.4 346.9L596.9 348.3L598.4 349.6L599.8 351.0L601.3 352.3L602.8 353.7L604.3 355.0L605.8 356.4L607.3 357.7L608.7 359.1L610.2 360.4L611.7 361.8L613.2 363.1L614.7 364.4L616.2 365.8L617.7 367.1L619.1 368.5L620.6 369.8L622.1 371.1L623.6 372.5L625.1 373.8L626.6 375.2L628.1 376.5L629.6 377.8L631.1 379.2L632.5 380.5L634.0 381.9L635.5 383.2L637.0 384.5L638.5 385.9L640.0 387.2L641.5 388.5L643.0 389.9L644.5 391.2L646.0 392.5L647.5 393.9L649.0 395.2L650.5 396.6L651.9 397.9L653.4 399.2L654.9 400.6L656.4 401.9L657.9 403.2L659.4 404.6L660.9 405.9L662.4 407.3L663.8 408.6L665.3 410.0L666.8 411.3L668.3 412.6L669.8 414.0L671.2 415.3L672.7 416.7L674.2 418.0L675.6 419.4L677.1 420.8L678.6 422.1L680.0 423.5L681.5 424.8L682.9 426.2L684.4 427.6L685.8 428.9L687.3 430.3L688.7 431.7L690.2 433.0L691.6 434.4L693.1 435.8L694.5 437.2L695.9 438.6L697.4 440.0L698.8 441.3L700.2 442.7L701.6 444.1L703.0 445.5L704.4 446.9L705.8 448.3L707.2 449.8L708.6 451.2L710.0 452.6L711.4 454.0L712.8 455.4L714.2 456.9L715.5 458.3L716.9 459.7L718.3 461.2L719.6 462.6L721.0 464.1L722.3 465.5L723.7 467.0L725.0 468.4L726.4 469.9L727.7 471.4L729.0 472.8L730.3 474.3L731.6 475.8L732.9 477.3L734.2 478.8L735.5 480.3L736.8 481.8L738.1 483.3L739.4 484.9L740.7 486.4L741.9 488.0L743.2 489.6L744.5 491.2L745.7 492.8L747.0 494.4L748.2 496.1L749.4 497.7L750.7 499.4L751.9 501.1L753.1 502.8L754.3 504.6L755.5 506.4L756.7 508.2L757.8 509.9L758.7 511.7L759.1 513.3L759.1 514.9L758.5 516.2L757.2 517.4L755.5 518.3L753.5 519.0L751.5 519.3L749.5 519.3L747.5 519.0L745.6 518.4L743.8 517.7L742.0 516.7L740.2 515.6L738.4 514.3L736.7 513.0L735.0 511.6L733.3 510.1L731.6 508.7L729.9 507.3L728.2 506.0L726.5 504.8L724.9 503.7L723.2 502.6L721.6 501.6L719.9 500.6L718.2 499.6L716.6 498.6L714.9 497.7L713.3 496.7L711.6 495.8L710.0 494.7L708.3 493.7L706.7 492.7L705.0 491.6L703.4 490.5L701.7 489.4L700.1 488.3L698.5 487.2L696.8 486.0L695.2 484.9L693.6 483.7L691.9 482.5L690.3 481.3L688.7 480.2L687.1 479.0L685.4 477.8L683.8 476.6L682.2 475.3L680.6 474.1L679.0 472.9L677.4 471.7L675.8 470.5L674.2 469.3L672.5 468.1L670.9 466.9L669.3 465.6L667.8 464.4L666.2 463.2L664.6 462.0L663.0 460.7L661.4 459.5L659.8 458.3L658.2 457.0L656.6 455.8L655.1 454.6L653.5 453.3L651.9 452.1L650.3 450.9L648.8 449.6L647.2 448.4L645.6 447.1L644.1 445.9L642.5 444.6L640.9 443.4L639.4 442.1L637.8 440.9L636.3 439.6L634.7 438.4L633.2 437.1L631.6 435.8L630.1 434.6L628.5 433.3L627.0 432.0L625.4 430.8L623.9 429.5L622.3 428.2L620.8 427.0L619.3 425.7L617.7 424.4L616.2 423.1L614.7 421.8L613.1 420.6L611.6 419.3L610.1 418.0L608.6 416.7L607.0 415.4L605.5 414.1L604.0 412.8L602.5 411.5L601.0 410.3L599.5 409.0L597.9 407.7L596.4 406.4L594.9 405.1L593.4 403.7L591.9 402.4L590.4 401.1L588.9 399.8L587.4 398.5L585.9 397.2L584.4 395.9L582.9 394.6L581.4 393.3L579.9 391.9L578.4 390.6L576.9 389.3L575.4 388.0L573.9 386.6L572.5 385.3L571.0 384.0L569.5 382.7L568.0 381.3L566.5 380.0L565.0 378.7L563.6 377.3L562.1 376.0L560.6 374.6L559.1 373.3L557.7 372.0L556.2 370.6L554.7 369.3L553.2 367.9L551.8 366.6L550.3 365.2L548.8 363.9L547.4 362.5L545.9 361.1L544.4 359.8L543.0 358.4L541.5 357.1L540.1 355.7L538.6 354.3L537.2 353.0L535.7 351.6L534.2 350.2L532.8 348.8L531.4 347.5L529.9 346.1L528.5 344.7L527.0 343.3L525.6 341.9L524.1 340.5L522.7 339.2L521.3 337.8L519.8 336.4L518.4 335.0L517.0 333.6L515.5 332.2L514.1 330.8L512.7 329.4L511.2 328.0L509.8 326.6L508.4 325.2L507.0 323.8L505.6 322.3L504.2 320.9L502.7 319.5L501.3 318.1L499.9 316.7L498.5 315.2L497.1 313.8L495.7 312.4L494.3 311.0L492.9 309.5L491.5 308.1L490.1 306.7L488.7 305.2L487.3 303.8L485.9 302.4L484.5 300.9L483.1 299.5L481.7 298.0L480.4 296.6L479.0 295.1L477.6 293.7L476.2 292.2L474.8 290.8L473.5 289.3L472.1 287.9L470.7 286.4L469.3 285.0L467.9 283.5L466.6 282.0L465.2 280.6L463.8 279.1L462.5 277.7L461.1 276.2L459.7 274.7L458.4 273.3L457.0 271.8L455.6 270.4L454.3 268.9L452.9 267.4L451.5 266.0L450.2 264.5L448.8 263.0L447.5 261.6L446.1 260.1L444.7 258.7L443.4 257.2L442.0 255.7L440.7 254.3L439.3 252.8L437.9 251.4L436.6 249.9L435.2 248.4L433.9 247.0L432.5 245.5L431.1 244.1L429.8 242.6L428.4 241.2L427.1 239.7L425.7 238.3L424.4 236.8L423.0 235.3L421.7 233.9L420.3 232.4L419.0 231.0L417.6 229.5L416.3 228.0L414.9 226.5L413.6 225.1L412.3 223.6L410.9 222.1L409.6 220.5L408.3 219.0L407.0 217.5L405.7 215.9L404.4 214.4L403.1 212.8L401.8 211.2L400.6 209.6L399.3 207.9L398.0 206.3L396.8 204.7L395.6 203.0L394.4 201.4L393.2 199.7L392.0 198.1L390.8 196.5L389.7 194.9L388.6 193.3L387.5 191.8L386.4 190.3L385.3 188.8L384.3 187.3L383.2 185.9L382.2 184.4L381.1 182.8L380.0 181.3L378.8 179.6L377.6 177.9L376.3 176.1L375.0 174.2L373.6 172.2L372.3 170.2L371.1 168.2L370.1 166.1L369.5 164.2L369.2 162.3Z" stroke="#000" stroke-width="3.4"/>
<path d="M437.7 228.5L438.1 226.5L439.3 225.0L441.0 224.8L443.0 225.5L445.0 226.4L446.9 227.3L448.7 228.3L450.5 229.4L452.2 230.5L453.9 231.6L455.6 232.8L457.2 234.0L458.8 235.2L460.3 236.5L461.9 237.8L463.4 239.1L464.9 240.4L466.4 241.7L467.9 243.0L469.4 244.3L470.9 245.6L472.4 246.9L473.9 248.3L475.4 249.6L476.9 250.9L478.4 252.2L479.9 253.5L481.4 254.8L482.9 256.1L484.4 257.5L485.9 258.8L487.4 260.1L488.9 261.4L490.4 262.7L491.9 264.1L493.4 265.4L494.8 266.7L496.3 268.0L497.8 269.3L499.3 270.7L500.8 272.0L502.3 273.3L503.8 274.6L505.3 275.9L506.8 277.3L508.3 278.6L509.8 279.9L511.3 281.2L512.8 282.6L514.3 283.9L515.8 285.2L517.3 286.5L518.7 287.9L520.2 289.2L521.7 290.5L523.2 291.8L524.7 293.2L526.2 294.5L527.7 295.8L529.2 297.2L530.7 298.5L532.2 299.8L533.7 301.2L535.2 302.5L536.7 303.8L538.2 305.1L539.7 306.5L541.2 307.8L542.7 309.2L544.2 310.5L545.7 311.8L547.2 313.2L548.7 314.5L550.2 315.8L551.7 317.2L553.2 318.5L554.7 319.8L556.2 321.2L557.7 322.5L559.2 323.9L560.7 325.2L562.2 326.5L563.7 327.9L565.2 329.2L566.8 330.6L568.3 331.9L569.8 333.3L571.3 334.6L572.8 336.0L574.3 337.3L575.8 338.6L577.3 340.0L578.8 341.3L580.3 342.7L581.8 344.0L583.3 345.4L584.8 346.7L586.3 348.1L587.8 349.4L589.3 350.8L590.8 352.1L592.3 353.5L593.8 354.9L595.3 356.2L596.8 357.6L598.3 358.9L599.7 360.3L601.2 361.6L602.7 363.0L604.2 364.3L605.7 365.7L607.1 367.1L608.6 368.4L610.1 369.8L611.6 371.1L613.0 372.5L614.5 373.8L615.9 375.2L617.4 376.6L618.8 377.9L620.3 379.3L621.7 380.7L623.2 382.0L624.6 383.4L626.0 384.7L627.5 386.1L628.9 387.5L630.3 388.8L631.7 390.2L633.2 391.6L634.6 392.9L636.0 394.3L637.4 395.7L638.8 397.0L640.2 398.4L641.6 399.8L642.9 401.2L644.3 402.5L645.7 403.9L647.1 405.3L648.4 406.7L649.8 408.1L651.2 409.5L652.5 410.9L653.9 412.3L655.3 413.7L656.6 415.2L658.0 416.6L659.4 418.1L660.7 419.6L662.1 421.2L663.5 422.7L664.9 424.3L666.3 425.9L667.7 427.5L669.1 429.2L670.5 430.8L671.9 432.6L673.4 434.3L674.8 436.1L676.0 437.9L677.1 439.7L678.0 441.5L678.7 443.3L678.9 445.0L678.8 446.8L678.3 448.4L677.3 449.4L676.0 449.7L674.5 449.4L672.7 448.7L670.9 447.7L669.0 446.6L667.1 445.5L665.3 444.3L663.4 443.2L661.6 442.1L659.8 441.0L658.0 439.8L656.2 438.7L654.4 437.5L652.7 436.4L650.9 435.2L649.2 434.1L647.5 432.9L645.8 431.7L644.1 430.6L642.4 429.4L640.7 428.2L639.0 427.0L637.4 425.9L635.7 424.7L634.1 423.5L632.4 422.3L630.8 421.1L629.2 419.9L627.6 418.7L626.0 417.5L624.4 416.3L622.8 415.0L621.2 413.8L619.7 412.6L618.1 411.4L616.5 410.1L615.0 408.9L613.4 407.7L611.9 406.4L610.4 405.2L608.8 403.9L607.3 402.7L605.8 401.4L604.3 400.2L602.8 398.9L601.2 397.7L599.7 396.4L598.2 395.1L596.7 393.9L595.2 392.6L593.7 391.3L592.2 390.0L590.7 388.7L589.2 387.5L587.7 386.2L586.3 384.9L584.8 383.6L583.3 382.3L581.8 381.0L580.3 379.7L578.8 378.4L577.3 377.1L575.8 375.8L574.3 374.4L572.8 373.1L571.3 371.8L569.8 370.5L568.3 369.2L566.8 367.8L565.3 366.5L563.8 365.2L562.3 363.8L560.8 362.5L559.3 361.2L557.8 359.8L556.3 358.5L554.8 357.1L553.4 355.8L551.9 354.4L550.4 353.1L548.9 351.7L547.4 350.3L545.9 349.0L544.4 347.6L543.0 346.2L541.5 344.9L540.0 343.5L538.6 342.1L537.1 340.7L535.6 339.3L534.2 337.9L532.7 336.6L531.2 335.2L529.8 333.8L528.3 332.4L526.9 331.0L525.5 329.6L524.0 328.2L522.6 326.7L521.2 325.3L519.7 323.9L518.3 322.5L516.9 321.1L515.5 319.7L514.1 318.2L512.7 316.8L511.3 315.4L509.9 313.9L508.5 312.5L507.1 311.0L505.7 309.6L504.4 308.2L503.0 306.7L501.6 305.3L500.3 303.8L498.9 302.3L497.6 300.9L496.2 299.4L494.9 298.0L493.5 296.5L492.2 295.0L490.9 293.6L489.5 292.1L488.2 290.6L486.9 289.1L485.5 287.6L484.2 286.2L482.9 284.7L481.5 283.2L480.2 281.7L478.9 280.2L477.5 278.7L476.2 277.2L474.9 275.7L473.5 274.2L472.2 272.7L470.8 271.2L469.5 269.7L468.2 268.2L466.8 266.7L465.5 265.2L464.1 263.6L462.8 262.1L461.5 260.6L460.2 259.1L458.9 257.5L457.6 256.0L456.3 254.4L455.0 252.9L453.8 251.3L452.6 249.7L451.4 248.2L450.2 246.6L449.0 245.0L447.9 243.4L446.8 241.8L445.6 240.2L444.5 238.5L443.2 236.9L441.9 235.3L440.5 233.7L439.2 232.1L438.1 230.4Z" stroke="#000" stroke-width="3.4"/>
<path d="M410.1 205.8L410.6 204.1L411.7 202.7L413.1 202.1L414.7 202.1L416.3 202.7L418.0 203.8L419.8 205.1L421.5 206.7L423.3 208.2L425.0 209.8L426.8 211.3L428.5 212.7L430.1 214.1L431.8 215.5L433.5 216.9L435.1 218.2L436.7 219.5L438.3 220.7L439.9 222.0L441.5 223.2L443.0 224.4L444.6 225.7L446.1 226.9L447.6 228.1L449.1 229.3L450.6 230.5L452.1 231.7L453.6 232.9L455.0 234.2L456.5 235.4L458.0 236.7L459.4 238.0L460.8 239.3L462.3 240.7L463.7 242.0L465.1 243.4L466.6 244.7L468.0 246.1L469.4 247.5L470.8 248.9L472.2 250.3L473.6 251.7L475.0 253.2L476.4 254.6L477.9 256.0L479.3 257.5L480.7 258.9L482.1 260.4L483.5 261.8L484.9 263.2L486.3 264.7L487.7 266.1L489.2 267.6L490.6 269.0L492.0 270.4L493.5 271.8L494.9 273.3L496.4 274.7L497.8 276.1L499.3 277.4L500.8 278.8L502.3 280.2L503.8 281.5L505.3 282.9L506.8 284.2L508.3 285.5L509.8 286.8L511.3 288.1L512.9 289.4L514.4 290.7L515.9 292.0L517.5 293.2L519.0 294.5L520.6 295.8L522.1 297.0L523.7 298.3L525.3 299.5L526.8 300.8L528.4 302.0L530.0 303.2L531.5 304.5L533.1 305.7L534.7 306.9L536.2 308.2L537.8 309.4L539.4 310.7L540.9 311.9L542.5 313.1L544.0 314.4L545.6 315.6L547.1 316.9L548.7 318.2L550.2 319.4L551.7 320.7L553.3 322.0L554.8 323.3L556.3 324.6L557.8 325.9L559.3 327.2L560.9 328.5L562.4 329.8L563.8 331.1L565.3 332.4L566.8 333.8L568.3 335.1L569.8 336.4L571.3 337.8L572.8 339.1L574.2 340.5L575.7 341.8L577.2 343.2L578.6 344.6L580.1 345.9L581.6 347.3L583.0 348.7L584.5 350.0L585.9 351.4L587.4 352.8L588.9 354.2L590.3 355.5L591.8 356.9L593.2 358.3L594.7 359.7L596.1 361.0L597.6 362.4L599.1 363.8L600.5 365.2L602.0 366.6L603.4 367.9L604.9 369.3L606.4 370.7L607.8 372.1L609.3 373.4L610.7 374.8L612.2 376.2L613.7 377.5L615.2 378.9L616.6 380.2L618.1 381.6L619.6 383.0L621.1 384.3L622.6 385.6L624.1 387.0L625.6 388.3L627.1 389.7L628.6 391.0L630.1 392.3L631.6 393.6L633.1 394.9L634.6 396.2L636.2 397.5L637.7 398.8L639.3 400.1L640.8 401.4L642.3 402.7L643.9 403.9L645.5 405.2L647.0 406.5L648.6 407.7L650.1 409.0L651.7 410.2L653.3 411.5L654.8 412.8L656.4 414.0L657.9 415.3L659.5 416.6L661.0 417.9L662.5 419.2L664.1 420.5L665.6 421.8L667.1 423.1L668.6 424.4L670.0 425.8L671.5 427.1L673.0 428.5L674.4 429.9L675.8 431.3L677.2 432.7L678.6 434.1L680.0 435.6L681.3 437.1L682.7 438.5L684.0 440.0L685.3 441.5L686.7 443.0L688.0 444.6L689.3 446.1L690.6 447.6L692.0 449.1L693.3 450.6L694.6 452.1L696.0 453.6L697.3 455.1L698.7 456.5L700.1 458.0L701.5 459.4L702.9 460.9L704.4 462.3L705.8 463.7L707.3 465.0L708.9 466.4L710.4 467.7L711.9 469.1L713.3 470.7L714.6 472.4L715.6 474.2L715.5 475.7L714.4 476.5L712.8 476.4L711.2 475.4L709.5 474.0L707.7 472.2L705.9 470.5L704.2 468.9L702.6 467.5L701.0 466.2L699.4 465.0L697.9 463.9L696.3 462.9L694.8 461.9L693.3 461.0L691.8 460.1L690.3 459.1L688.7 458.1L687.2 457.1L685.6 456.1L684.0 455.0L682.4 453.9L680.8 452.8L679.2 451.7L677.6 450.6L676.0 449.4L674.3 448.3L672.7 447.1L671.0 445.9L669.4 444.7L667.7 443.6L666.1 442.4L664.4 441.2L662.8 439.9L661.1 438.7L659.5 437.5L657.8 436.3L656.2 435.1L654.5 433.9L652.9 432.7L651.2 431.5L649.6 430.3L648.0 429.1L646.3 427.9L644.7 426.7L643.1 425.5L641.5 424.2L639.8 423.0L638.2 421.8L636.6 420.6L635.0 419.4L633.4 418.2L631.8 417.0L630.2 415.8L628.6 414.5L627.0 413.3L625.4 412.1L623.8 410.9L622.2 409.7L620.6 408.4L619.0 407.2L617.5 406.0L615.9 404.7L614.3 403.5L612.7 402.3L611.2 401.0L609.6 399.8L608.0 398.6L606.5 397.3L604.9 396.1L603.3 394.8L601.8 393.6L600.2 392.3L598.7 391.1L597.1 389.8L595.6 388.5L594.1 387.3L592.5 386.0L591.0 384.7L589.5 383.5L587.9 382.2L586.4 380.9L584.9 379.6L583.4 378.3L581.9 377.0L580.3 375.7L578.8 374.4L577.3 373.1L575.8 371.8L574.3 370.5L572.8 369.2L571.3 367.9L569.8 366.6L568.4 365.2L566.9 363.9L565.4 362.5L563.9 361.2L562.4 359.9L561.0 358.5L559.5 357.1L558.0 355.8L556.6 354.4L555.1 353.1L553.6 351.7L552.2 350.3L550.7 348.9L549.3 347.5L547.8 346.1L546.4 344.8L544.9 343.4L543.5 342.0L542.0 340.6L540.6 339.2L539.1 337.8L537.7 336.4L536.3 335.0L534.8 333.6L533.4 332.2L531.9 330.8L530.5 329.3L529.1 327.9L527.6 326.5L526.2 325.1L524.7 323.7L523.3 322.3L521.9 320.9L520.4 319.5L519.0 318.1L517.5 316.7L516.1 315.3L514.6 313.9L513.2 312.5L511.8 311.1L510.3 309.8L508.8 308.4L507.4 307.0L505.9 305.6L504.5 304.2L503.0 302.9L501.5 301.5L500.1 300.1L498.6 298.8L497.1 297.4L495.7 296.1L494.2 294.7L492.7 293.4L491.2 292.0L489.7 290.7L488.3 289.3L486.8 288.0L485.3 286.7L483.8 285.3L482.3 284.0L480.9 282.6L479.4 281.3L477.9 279.9L476.5 278.6L475.0 277.2L473.5 275.8L472.1 274.5L470.6 273.1L469.2 271.7L467.7 270.3L466.3 268.9L464.9 267.5L463.5 266.1L462.0 264.7L460.6 263.2L459.2 261.8L457.8 260.4L456.5 258.9L455.1 257.4L453.7 255.9L452.4 254.4L451.0 252.9L449.7 251.4L448.3 249.9L447.0 248.3L445.7 246.8L444.4 245.2L443.1 243.7L441.8 242.1L440.5 240.6L439.2 239.1L437.8 237.5L436.5 236.0L435.2 234.5L433.9 233.0L432.6 231.5L431.3 230.1L429.9 228.6L428.6 227.2L427.2 225.8L425.9 224.5L424.5 223.1L423.1 221.8L421.7 220.4L420.3 219.0L418.9 217.6L417.5 216.2L416.0 214.6L414.6 213.0L413.1 211.3L411.7 209.5L410.6 207.7Z" stroke="#f00" stroke-width="3.4"/>
<path d="M464.4 256.4L464.9 254.5L466.3 253.5L468.3 253.3L470.2 253.8L471.8 254.8L473.3 256.1L474.7 257.6L476.0 259.3L477.4 260.9L478.7 262.6L480.1 264.2L481.4 265.7L482.8 267.2L484.3 268.7L485.7 270.2L487.1 271.6L488.6 273.1L490.0 274.4L491.5 275.8L493.0 277.1L494.5 278.5L496.0 279.8L497.5 281.1L499.0 282.3L500.5 283.6L502.1 284.8L503.6 286.1L505.2 287.3L506.7 288.5L508.3 289.7L509.8 290.9L511.4 292.2L513.0 293.4L514.5 294.6L516.1 295.8L517.7 297.0L519.2 298.2L520.8 299.4L522.3 300.6L523.9 301.8L525.5 303.1L527.0 304.3L528.6 305.6L530.1 306.8L531.7 308.1L533.2 309.4L534.7 310.6L536.3 311.9L537.8 313.2L539.4 314.5L540.9 315.8L542.4 317.1L544.0 318.4L545.5 319.7L547.0 321.0L548.5 322.3L550.0 323.7L551.6 325.0L553.1 326.3L554.6 327.7L556.1 329.0L557.6 330.4L559.1 331.7L560.6 333.1L562.1 334.4L563.6 335.8L565.1 337.1L566.6 338.5L568.1 339.9L569.6 341.2L571.1 342.6L572.6 344.0L574.0 345.4L575.5 346.7L577.0 348.1L578.5 349.5L580.0 350.9L581.4 352.3L582.9 353.6L584.4 355.0L585.8 356.4L587.3 357.8L588.7 359.2L590.2 360.6L591.7 362.0L593.1 363.3L594.6 364.7L596.0 366.1L597.4 367.5L598.9 368.9L600.3 370.2L601.8 371.6L603.2 373.0L604.6 374.4L606.1 375.8L607.5 377.1L608.9 378.5L610.3 379.9L611.8 381.2L613.2 382.6L614.6 384.0L616.0 385.3L617.4 386.7L618.9 388.0L620.3 389.4L621.7 390.8L623.1 392.1L624.5 393.5L626.0 394.8L627.4 396.2L628.8 397.6L630.3 398.9L631.7 400.3L633.2 401.7L634.6 403.1L636.1 404.5L637.5 405.9L639.0 407.3L640.5 408.7L642.0 410.1L643.5 411.5L645.0 413.0L646.5 414.4L648.1 415.9L649.6 417.3L651.2 418.8L652.7 420.3L653.7 421.7L654.2 423.2L653.5 424.3L651.7 424.6L649.7 424.3L647.8 423.6L646.0 422.7L644.2 421.5L642.5 420.3L640.8 419.0L639.1 417.7L637.5 416.4L635.9 415.1L634.3 413.8L632.7 412.5L631.1 411.3L629.6 410.0L628.0 408.7L626.5 407.5L625.0 406.2L623.5 405.0L622.0 403.8L620.5 402.5L619.0 401.3L617.5 400.0L616.0 398.8L614.5 397.5L612.9 396.3L611.4 395.1L609.9 393.8L608.4 392.6L606.8 391.3L605.3 390.0L603.8 388.8L602.2 387.5L600.7 386.3L599.1 385.0L597.6 383.7L596.0 382.5L594.5 381.2L592.9 379.9L591.4 378.7L589.8 377.4L588.3 376.1L586.7 374.8L585.2 373.5L583.7 372.3L582.1 371.0L580.6 369.7L579.0 368.4L577.5 367.1L575.9 365.8L574.4 364.5L572.9 363.1L571.4 361.8L569.8 360.5L568.3 359.2L566.8 357.9L565.3 356.5L563.8 355.2L562.3 353.9L560.8 352.5L559.3 351.2L557.8 349.8L556.3 348.5L554.8 347.1L553.3 345.7L551.8 344.4L550.4 343.0L548.9 341.7L547.4 340.3L546.0 338.9L544.5 337.5L543.0 336.2L541.6 334.8L540.1 333.4L538.7 332.0L537.2 330.6L535.8 329.3L534.3 327.9L532.9 326.5L531.4 325.1L530.0 323.7L528.5 322.3L527.1 320.9L525.7 319.5L524.2 318.2L522.8 316.8L521.3 315.4L519.9 314.0L518.5 312.6L517.0 311.2L515.6 309.8L514.2 308.4L512.7 307.0L511.3 305.6L509.9 304.2L508.5 302.8L507.0 301.4L505.6 300.1L504.2 298.7L502.7 297.3L501.3 295.9L499.9 294.5L498.4 293.1L497.0 291.8L495.6 290.4L494.1 289.0L492.7 287.6L491.3 286.3L489.8 284.9L488.4 283.5L486.9 282.2L485.5 280.8L484.0 279.4L482.6 278.1L481.2 276.7L479.7 275.3L478.3 274.0L476.8 272.6L475.4 271.1L473.9 269.7L472.5 268.2L471.1 266.7L469.7 265.1L468.3 263.5L466.9 261.8L465.6 260.0L464.7 258.2Z" stroke="#f00" stroke-width="3.4"/>
<path d="M199.9 15.9L200.5 13.9L201.2 12.1L202.3 10.6L203.7 9.5L205.3 8.8L207.0 8.5L208.8 8.5L210.6 8.8L212.6 9.4L214.5 10.1L216.4 10.9L218.4 11.9L220.3 12.8L222.2 13.8L224.1 14.8L226.0 15.8L227.9 16.8L229.7 17.8L231.6 18.8L233.4 19.9L235.2 20.9L237.0 21.9L238.8 23.0L240.5 24.0L242.3 25.1L244.0 26.2L245.7 27.3L247.4 28.3L249.1 29.4L250.8 30.5L252.5 31.6L254.2 32.7L255.8 33.9L257.5 35.0L259.1 36.1L260.8 37.2L262.4 38.4L264.0 39.5L265.6 40.7L267.2 41.8L268.8 43.0L270.4 44.1L272.0 45.3L273.6 46.5L275.2 47.7L276.8 48.8L278.4 50.0L280.0 51.2L281.5 52.4L283.1 53.6L284.7 54.8L286.3 56.0L287.8 57.2L289.4 58.4L291.0 59.6L292.5 60.8L294.1 62.0L295.7 63.2L297.2 64.4L298.8 65.6L300.3 66.8L301.9 68.0L303.5 69.3L305.0 70.5L306.6 71.7L308.1 72.9L309.7 74.2L311.2 75.4L312.8 76.6L314.3 77.9L315.9 79.1L317.4 80.4L319.0 81.6L320.5 82.8L322.1 84.1L323.6 85.3L325.2 86.6L326.7 87.8L328.2 89.1L329.8 90.3L331.3 91.6L332.9 92.8L334.4 94.1L336.0 95.4L337.5 96.6L339.1 97.9L340.6 99.1L342.2 100.4L343.7 101.7L345.3 102.9L346.8 104.2L348.3 105.5L349.9 106.7L351.4 108.0L353.0 109.3L354.5 110.5L356.1 111.8L357.6 113.1L359.2 114.3L360.8 115.6L362.3 116.9L363.9 118.1L365.4 119.4L367.0 120.7L368.5 122.0L370.1 123.2L371.7 124.5L373.2 125.8L374.8 127.0L376.4 128.3L377.9 129.6L379.5 130.8L381.1 132.1L382.6 133.4L384.2 134.7L385.8 135.9L387.4 137.2L388.9 138.5L390.5 139.8L392.1 141.0L393.6 142.3L395.2 143.6L396.8 144.9L398.3 146.1L399.9 147.4L401.5 148.7L403.0 150.0L404.6 151.3L406.2 152.6L407.7 153.9L409.3 155.2L410.8 156.5L412.3 157.8L413.9 159.1L415.4 160.4L417.0 161.7L418.5 163.0L420.0 164.3L421.5 165.6L423.0 167.0L424.5 168.3L426.0 169.6L427.5 171.0L429.0 172.3L430.5 173.7L432.0 175.0L433.4 176.4L434.9 177.7L436.4 179.1L437.8 180.4L439.3 181.8L440.7 183.2L442.1 184.6L443.5 186.0L444.9 187.4L446.3 188.8L447.7 190.2L449.1 191.6L450.5 193.0L451.8 194.4L453.2 195.9L454.5 197.3L455.9 198.7L457.2 200.2L458.5 201.7L459.8 203.1L461.1 204.6L462.3 206.1L463.6 207.6L464.9 209.0L466.1 210.5L467.3 212.1L468.5 213.6L469.7 215.1L470.9 216.6L472.1 218.2L473.3 219.7L474.4 221.3L475.6 222.9L476.7 224.4L477.8 226.0L478.9 227.6L480.0 229.2L481.1 230.9L482.1 232.5L483.2 234.1L484.3 235.8L485.3 237.5L486.4 239.2L487.4 240.9L488.5 242.6L489.5 244.3L490.6 246.1L491.6 247.9L492.7 249.7L493.8 251.5L494.8 253.3L495.9 255.2L497.0 257.1L498.1 259.0L499.2 260.9L500.3 262.9L501.3 264.8L502.3 266.8L503.1 268.8L503.8 270.7L504.4 272.6L504.7 274.5L504.7 276.3L504.5 278.1L503.9 279.8L503.1 281.4L502.0 282.9L500.6 284.3L499.1 285.5L497.4 286.5L495.6 287.3L493.7 287.9L491.7 288.3L489.7 288.4L487.6 288.3L485.6 288.2L483.5 287.9L481.5 287.5L479.5 287.1L477.5 286.7L475.6 286.1L473.7 285.6L471.8 284.9L469.9 284.3L468.0 283.6L466.2 282.8L464.4 282.0L462.6 281.2L460.8 280.3L459.0 279.4L457.2 278.5L455.5 277.5L453.7 276.5L452.0 275.5L450.3 274.5L448.6 273.5L446.9 272.5L445.2 271.4L443.5 270.3L441.8 269.3L440.1 268.2L438.4 267.1L436.7 266.1L435.0 265.0L433.3 263.9L431.6 262.8L430.0 261.7L428.3 260.6L426.6 259.5L424.9 258.5L423.3 257.4L421.6 256.2L419.9 255.1L418.3 254.0L416.6 252.9L415.0 251.8L413.3 250.7L411.7 249.5L410.0 248.4L408.4 247.3L406.7 246.1L405.1 245.0L403.4 243.9L401.8 242.7L400.2 241.6L398.5 240.4L396.9 239.3L395.3 238.1L393.7 236.9L392.1 235.8L390.4 234.6L388.8 233.4L387.2 232.2L385.6 231.1L384.0 229.9L382.4 228.7L380.8 227.5L379.2 226.3L377.6 225.1L376.0 223.9L374.4 222.7L372.9 221.4L371.3 220.2L369.7 219.0L368.1 217.8L366.6 216.5L365.0 215.3L363.4 214.1L361.9 212.8L360.3 211.6L358.8 210.3L357.2 209.1L355.7 207.8L354.1 206.6L352.6 205.3L351.0 204.0L349.5 202.8L348.0 201.5L346.5 200.2L344.9 198.9L343.4 197.6L341.9 196.3L340.4 195.0L338.9 193.7L337.4 192.4L335.9 191.1L334.4 189.8L332.9 188.5L331.4 187.2L329.9 185.8L328.4 184.5L326.9 183.2L325.4 181.8L324.0 180.5L322.5 179.1L321.0 177.8L319.5 176.4L318.1 175.1L316.6 173.7L315.2 172.3L313.7 171.0L312.3 169.6L310.8 168.2L309.4 166.8L307.9 165.4L306.5 164.0L305.1 162.7L303.6 161.3L302.2 159.9L300.8 158.4L299.4 157.0L298.0 155.6L296.5 154.2L295.1 152.8L293.7 151.4L292.3 149.9L290.9 148.5L289.5 147.1L288.1 145.6L286.7 144.2L285.4 142.7L284.0 141.3L282.6 139.8L281.2 138.4L279.8 136.9L278.5 135.4L277.1 134.0L275.7 132.5L274.4 131.0L273.0 129.5L271.7 128.1L270.3 126.6L269.0 125.1L267.6 123.6L266.3 122.1L264.9 120.6L263.6 119.1L262.3 117.6L260.9 116.1L259.6 114.6L258.3 113.1L257.0 111.6L255.7 110.1L254.3 108.6L253.0 107.1L251.7 105.6L250.4 104.1L249.1 102.6L247.8 101.1L246.5 99.6L245.2 98.1L243.9 96.5L242.7 95.0L241.4 93.5L240.1 92.0L238.8 90.5L237.5 89.0L236.3 87.5L235.0 85.9L233.7 84.4L232.5 82.9L231.2 81.4L230.0 79.8L228.7 78.3L227.5 76.7L226.3 75.2L225.1 73.6L223.9 72.0L222.7 70.5L221.5 68.9L220.4 67.3L219.2 65.7L218.1 64.0L216.9 62.4L215.8 60.7L214.7 59.1L213.6 57.4L212.6 55.7L211.5 54.0L210.5 52.2L209.5 50.5L208.5 48.7L207.5 46.9L206.6 45.0L205.6 43.2L204.7 41.3L203.9 39.4L203.0 37.5L202.2 35.6L201.5 33.7L200.9 31.7L200.4 29.8L199.9 27.8L199.6 25.8L199.3 23.8L199.3 21.8L199.3 19.8L199.5 17.9Z" stroke="#00f" stroke-width="3.4"/>
<path d="M253.7 69.9L253.9 67.9L254.4 65.9L255.3 64.3L256.6 63.1L258.1 62.4L259.9 62.1L261.8 62.3L263.9 62.8L265.9 63.5L268.0 64.3L270.0 65.2L272.0 66.1L273.9 67.0L275.8 67.9L277.7 68.9L279.5 69.9L281.3 70.9L283.1 71.9L284.9 72.9L286.6 74.0L288.3 75.1L290.0 76.2L291.7 77.2L293.3 78.4L294.9 79.5L296.6 80.6L298.2 81.7L299.8 82.9L301.4 84.0L302.9 85.2L304.5 86.3L306.1 87.5L307.7 88.7L309.3 89.8L310.9 91.0L312.5 92.2L314.0 93.3L315.6 94.5L317.2 95.7L318.8 96.8L320.4 98.0L322.0 99.2L323.6 100.4L325.2 101.5L326.8 102.7L328.4 103.9L330.0 105.1L331.5 106.3L333.1 107.5L334.7 108.7L336.3 109.9L337.9 111.1L339.5 112.3L341.1 113.6L342.6 114.8L344.2 116.0L345.8 117.2L347.3 118.5L348.9 119.7L350.5 121.0L352.0 122.2L353.6 123.5L355.1 124.8L356.7 126.0L358.2 127.3L359.8 128.6L361.3 129.9L362.8 131.2L364.4 132.5L365.9 133.8L367.4 135.2L368.9 136.5L370.4 137.9L371.9 139.2L373.4 140.6L374.9 141.9L376.3 143.3L377.8 144.7L379.3 146.1L380.7 147.5L382.2 148.9L383.6 150.3L385.0 151.8L386.5 153.2L387.9 154.7L389.3 156.1L390.7 157.6L392.1 159.0L393.5 160.5L394.9 162.0L396.3 163.4L397.6 164.9L399.0 166.4L400.4 167.9L401.7 169.3L403.1 170.8L404.4 172.3L405.8 173.8L407.1 175.3L408.5 176.7L409.8 178.2L411.1 179.7L412.5 181.2L413.8 182.6L415.1 184.1L416.4 185.6L417.7 187.0L419.0 188.5L420.3 189.9L421.6 191.3L422.9 192.8L424.2 194.2L425.5 195.6L426.7 197.0L428.0 198.4L429.3 199.8L430.6 201.2L431.8 202.6L433.1 204.0L434.3 205.5L435.5 207.0L436.7 208.5L437.9 210.2L439.0 212.0L440.1 213.8L441.2 215.8L442.2 217.9L443.1 220.0L443.9 222.2L444.4 224.4L444.7 226.5L444.6 228.5L444.2 230.2L443.3 231.7L442.1 232.9L440.4 233.9L438.6 234.5L436.5 234.9L434.4 234.9L432.3 234.6L430.3 234.0L428.4 233.2L426.5 232.2L424.6 231.1L422.8 230.1L421.0 229.0L419.3 228.0L417.6 226.9L415.9 225.9L414.2 224.9L412.6 223.8L410.9 222.8L409.3 221.8L407.6 220.7L406.0 219.7L404.4 218.6L402.7 217.6L401.1 216.6L399.4 215.5L397.8 214.5L396.1 213.4L394.4 212.3L392.8 211.3L391.1 210.2L389.4 209.1L387.8 208.1L386.1 207.0L384.4 205.9L382.8 204.8L381.1 203.7L379.4 202.6L377.8 201.4L376.1 200.3L374.4 199.2L372.8 198.0L371.1 196.9L369.5 195.7L367.9 194.6L366.2 193.4L364.6 192.2L363.0 191.0L361.4 189.8L359.7 188.6L358.1 187.3L356.6 186.1L355.0 184.9L353.4 183.6L351.8 182.4L350.2 181.1L348.7 179.8L347.1 178.5L345.6 177.2L344.0 175.9L342.5 174.6L341.0 173.3L339.5 172.0L338.0 170.6L336.5 169.3L335.0 167.9L333.5 166.6L332.0 165.2L330.5 163.8L329.1 162.5L327.6 161.1L326.2 159.7L324.8 158.3L323.3 156.9L321.9 155.5L320.5 154.1L319.1 152.6L317.7 151.2L316.3 149.8L315.0 148.4L313.6 146.9L312.3 145.5L310.9 144.0L309.6 142.6L308.3 141.1L306.9 139.6L305.6 138.2L304.4 136.7L303.1 135.2L301.8 133.7L300.5 132.2L299.3 130.8L298.0 129.3L296.7 127.8L295.5 126.3L294.2 124.8L293.0 123.3L291.7 121.8L290.4 120.2L289.2 118.7L287.9 117.2L286.6 115.7L285.3 114.2L284.0 112.7L282.7 111.1L281.4 109.6L280.0 108.1L278.7 106.5L277.3 105.0L275.9 103.5L274.5 101.9L273.1 100.4L271.6 98.8L270.1 97.3L268.6 95.8L267.1 94.2L265.6 92.7L264.2 91.1L262.7 89.5L261.3 87.9L260.0 86.3L258.8 84.6L257.7 82.9L256.6 81.2L255.7 79.4L255.0 77.6L254.4 75.8L254.0 73.9L253.7 71.9Z" stroke="#00f" stroke-width="3.4"/>
<line x1="160.4" y1="312.1" x2="1019.5" y2="312.1" stroke="#808080" stroke-width="2.6"/>
<line x1="683.3" y1="692.3" x2="683.3" y2="4.4" stroke="#808080" stroke-width="2.6"/>
<line x1="160.4" y1="279.8" x2="1019.5" y2="279.8" stroke="#808080" stroke-width="2.6" stroke-dasharray="14.93 14.93"/>
<line x1="160.4" y1="344.4" x2="1019.5" y2="344.4" stroke="#808080" stroke-width="2.6" stroke-dasharray="14.93 14.93"/>
<line x1="593.6" y1="692.3" x2="593.6" y2="4.4" stroke="#808080" stroke-width="2.6" stroke-dasharray="14.93 14.93"/>
<line x1="772.8" y1="692.3" x2="772.8" y2="4.4" stroke="#808080" stroke-width="2.6" stroke-dasharray="14.93 14.93"/>
</g>
<g stroke="#000" stroke-width="1.3"><line x1="197.8" y1="692.3" x2="197.8" y2="682.6"/><line x1="197.8" y1="4.4" x2="197.8" y2="14.1"/><line x1="347.2" y1="692.3" x2="347.2" y2="682.6"/><line x1="347.2" y1="4.4" x2="347.2" y2="14.1"/><line x1="496.6" y1="692.3" x2="496.6" y2="682.6"/><line x1="496.6" y1="4.4" x2="496.6" y2="14.1"/><line x1="646.0" y1="692.3" x2="646.0" y2="682.6"/><line x1="646.0" y1="4.4" x2="646.0" y2="14.1"/><line x1="795.4" y1="692.3" x2="795.4" y2="682.6"/><line x1="795.4" y1="4.4" x2="795.4" y2="14.1"/><line x1="944.8" y1="692.3" x2="944.8" y2="682.6"/><line x1="944.8" y1="4.4" x2="944.8" y2="14.1"/><line x1="160.4" y1="660.1" x2="170.1" y2="660.1"/><line x1="1019.5" y1="660.1" x2="1009.8" y2="660.1"/><line x1="160.4" y1="531.2" x2="170.1" y2="531.2"/><line x1="1019.5" y1="531.2" x2="1009.8" y2="531.2"/><line x1="160.4" y1="402.3" x2="170.1" y2="402.3"/><line x1="1019.5" y1="402.3" x2="1009.8" y2="402.3"/><line x1="160.4" y1="273.4" x2="170.1" y2="273.4"/><line x1="1019.5" y1="273.4" x2="1009.8" y2="273.4"/><line x1="160.4" y1="144.6" x2="170.1" y2="144.6"/><line x1="1019.5" y1="144.6" x2="1009.8" y2="144.6"/><line x1="160.4" y1="15.7" x2="170.1" y2="15.7"/><line x1="1019.5" y1="15.7" x2="1009.8" y2="15.7"/></g>
<rect x="160.4" y="4.4" width="859.1" height="687.9" fill="none" stroke="#000" stroke-width="2.5"/>
<g fill="#000"><text transform="matrix(0.9591 0 0 1.0000 76.11 670.28)" font-size="39.0">1840</text><text transform="matrix(0.9591 0 0 1.0000 76.11 541.40)" font-size="39.0">1920</text><text transform="matrix(0.9479 0 0 1.0000 76.98 412.52)" font-size="39.0">2000</text><text transform="matrix(0.9479 0 0 1.0000 76.98 283.64)" font-size="39.0">2080</text><text transform="matrix(0.9479 0 0 1.0000 76.98 154.76)" font-size="39.0">2160</text><text transform="matrix(0.9479 0 0 1.0000 76.98 25.88)" font-size="39.0">2240</text><text transform="matrix(0.9710 0 0 1.0000 178.72 729.40)" font-size="39.0">60</text><text transform="matrix(0.9478 0 0 1.0000 328.17 729.40)" font-size="39.0">64</text><text transform="matrix(0.9710 0 0 1.0000 477.54 729.40)" font-size="39.0">68</text><text transform="matrix(1.0152 0 0 1.0000 625.97 729.40)" font-size="39.0">72</text><text transform="matrix(0.9867 0 0 1.0000 775.45 729.40)" font-size="39.0">76</text><text transform="matrix(0.9659 0 0 1.0000 925.96 729.40)" font-size="39.0">80</text><text transform="matrix(1.0466 0 0 1.0000 434.48 786.00)" font-size="42.5" font-style="italic">H</text><text transform="matrix(1.0618 0 0 1.0000 465.29 791.20)" font-size="30">0</text><text transform="matrix(0.5812 0 0 1.2623 496.37 791.82)" font-size="42.5">[</text><text transform="matrix(0.9728 0 0 1.0000 504.31 786.00)" font-size="42.5">km</text><text transform="matrix(1.0331 0 0 1.0000 569.10 786.00)" font-size="42.5">s</text><text transform="matrix(1.4685 0 0 1.0000 585.21 771.00)" font-size="30">−</text><text transform="matrix(1.0415 0 0 1.0000 606.55 771.00)" font-size="30">1</text><text transform="matrix(0.9725 0 0 1.0000 624.81 786.00)" font-size="42.5">Mpc</text><text transform="matrix(1.2321 0 0 1.0000 700.76 771.00)" font-size="30">−</text><text transform="matrix(0.9942 0 0 1.0000 721.88 771.00)" font-size="30">1</text><text transform="matrix(0.6341 0 0 1.2537 738.03 791.87)" font-size="42.5">]</text><text transform="matrix(0 -1.0221 1.0000 0 32.00 583.11)" font-size="42.5" font-style="italic">D</text><text transform="matrix(0 -1.0181 1.0000 0 38.00 550.00)" font-size="30" font-style="italic">V</text><text transform="matrix(0 -0.9161 1.0769 0 32.26 524.01)" font-size="42.5">(</text><text transform="matrix(0 -1.0391 1.0000 0 32.00 508.80)" font-size="42.5" font-style="italic">z</text><text transform="matrix(0 -1.3197 1.0000 0 32.00 479.89)" font-size="42.5">=</text><text transform="matrix(0 -0.9160 1.0000 0 32.00 436.88)" font-size="42.5">0</text><text transform="matrix(0 -0.7567 1.0000 0 32.00 414.92)" font-size="42.5">.</text><text transform="matrix(0 -0.8820 1.0000 0 32.00 405.98)" font-size="42.5">5</text><text transform="matrix(0 -1.0392 1.0000 0 32.00 387.81)" font-size="42.5">7</text><text transform="matrix(0 -0.9619 1.0613 0 31.80 367.42)" font-size="42.5">)</text><text transform="matrix(0 -1.1244 1.0000 0 32.00 352.24)" font-size="42.5" font-style="italic">r</text><text transform="matrix(0 -1.2425 1.0000 0 38.00 332.43)" font-size="30" font-style="italic">d</text><text transform="matrix(0 -0.8058 1.0000 0 38.00 312.92)" font-size="30">,</text><text transform="matrix(0 -0.8053 1.0000 0 38.00 307.74)" font-size="30">fid</text><text transform="matrix(0 -1.1110 1.0000 0 32.00 254.91)" font-size="42.5" font-style="italic">r</text><text transform="matrix(0 -0.9954 1.0000 0 38.00 236.40)" font-size="30" font-style="italic">d</text><text transform="matrix(0 -0.7397 1.1798 0 35.29 205.13)" font-size="42.5">[</text><text transform="matrix(0 -0.9202 1.0000 0 32.00 196.03)" font-size="42.5">M</text><text transform="matrix(0 -1.1161 1.0000 0 32.00 161.36)" font-size="42.5">p</text><text transform="matrix(0 -0.9412 1.0000 0 32.00 139.32)" font-size="42.5">c</text><text transform="matrix(0 -0.6552 1.1798 0 35.29 122.11)" font-size="42.5">]</text></g>
<line x1="-1" y1="258.3" x2="41.6" y2="273.4" stroke="#000" stroke-width="1.8"/>
</svg></body></html>
